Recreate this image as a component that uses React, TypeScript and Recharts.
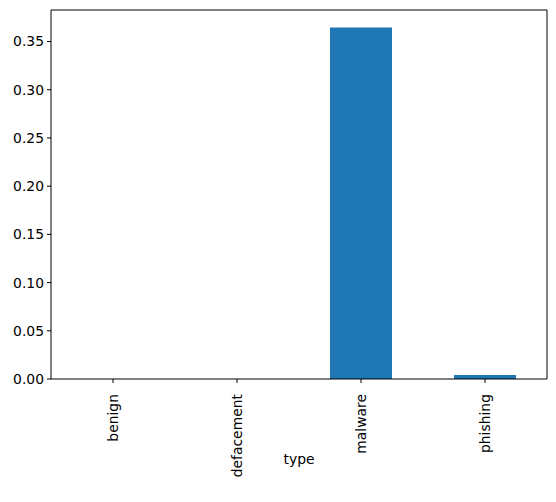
import React from 'react';
import { BarChart, Bar, XAxis, YAxis } from 'recharts';

const categories = ['benign', 'defacement', 'malware', 'phishing'];
const values = [0, 0, 0.3645, 0.0041];
const yTicks = [0, 0.05, 0.1, 0.15, 0.2, 0.25, 0.3, 0.35];

const data = categories.map((type, i) => ({ type, value: values[i] }));

const FONT = '"DejaVu Sans", sans-serif';
const FS = 13.9;

const RotatedTick = ({ x, y, payload }: any) => (
  <g transform={`translate(${x},${y + 9}) rotate(-90)`}>
    <text x={0} y={0} dy="0.35em" textAnchor="end" fontSize={FS} fill="#000" fontFamily={FONT}>
      {payload.value}
    </text>
  </g>
);

export default function App() {
  return (
    <div style={{ position: 'absolute', left: 0, top: 0, background: '#fff' }}>
      <BarChart
        width={556}
        height={502}
        data={data}
        margin={{ top: 9, right: 8, bottom: 0, left: 0 }}
        barCategoryGap="25%"
      >
        <XAxis
          dataKey="type"
          height={123}
          stroke="#000"
          tickSize={4}
          tickLine={{ stroke: '#000' }}
          tick={<RotatedTick />}
          interval={0}
          label={{ value: 'type', position: 'insideBottom', offset: 38, fontSize: FS, fill: '#000', fontFamily: FONT }}
        />
        <XAxis xAxisId="top" dataKey="type" orientation="top" height={1} tick={false} tickLine={false} stroke="#000" />
        <YAxis
          width={51}
          domain={[0, 0.3827]}
          ticks={yTicks}
          allowDataOverflow
          stroke="#000"
          tickSize={4}
          tickMargin={3}
          tick={{ fontSize: FS, fill: '#000', fontFamily: FONT }}
          tickFormatter={(v: number) => v.toFixed(2)}
        />
        <YAxis yAxisId="right" orientation="right" width={1} tick={false} tickLine={false} stroke="#000" />
        <Bar dataKey="value" fill="#1f77b4" isAnimationActive={false} />
      </BarChart>
    </div>
  );
}
